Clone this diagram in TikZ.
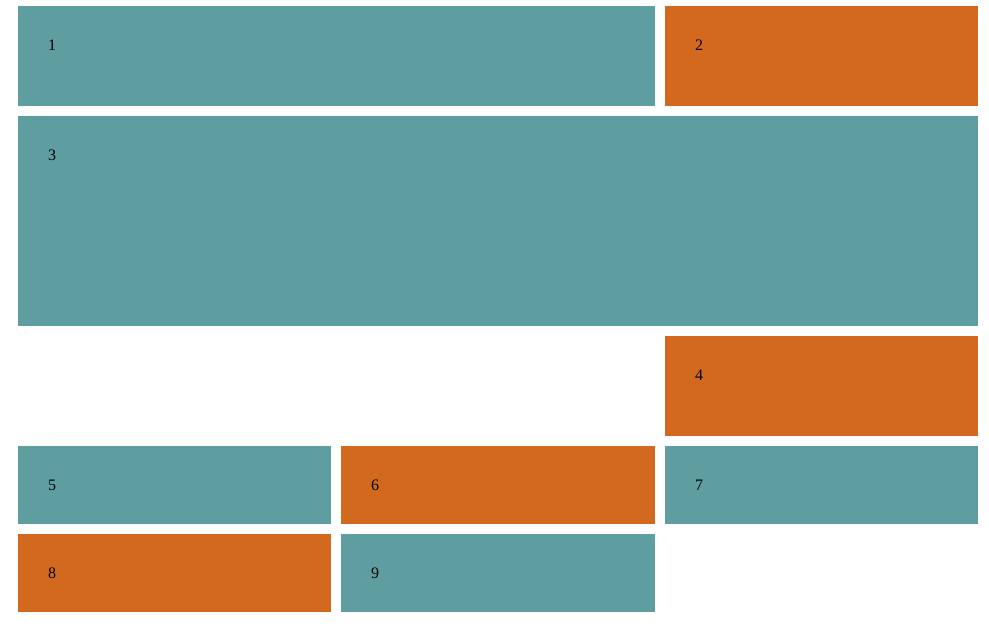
\documentclass[tikz,border=0pt]{standalone}
\usepackage{fontspec}
\setmainfont{Liberation Serif}
\definecolor{tealbox}{HTML}{5F9EA0}
\definecolor{orangebox}{HTML}{D2691E}
\begin{document}
\begin{tikzpicture}[x=1pt, y=-1pt,
    tile/.style={inner sep=0pt, outer sep=0pt, anchor=north west},
    lbl/.style={anchor=base west, inner sep=0pt, font=\fontsize{16}{19}\selectfont}]
    \useasboundingbox (0,0) rectangle (989,630);
    % Felder: Name / links / oben / Breite / Hoehe / Farbe
    \foreach \n/\x/\y/\w/\h/\c in {
        1/18/6/637/100/tealbox,
        2/665/6/313/100/orangebox,
        3/18/116/960/210/tealbox,
        4/665/336/313/100/orangebox,
        5/18/446/313/78/tealbox,
        6/341/446/314/78/orangebox,
        7/665/446/313/78/tealbox,
        8/18/534/313/78/orangebox,
        9/341/534/314/78/tealbox}{
        \node[tile, fill=\c, minimum width=\w pt, minimum height=\h pt] (box\n) at (\x,\y) {};
        \node[lbl] (lbl\n) at (\x+30,\y+44) {\n};
    }
\end{tikzpicture}
\end{document}
